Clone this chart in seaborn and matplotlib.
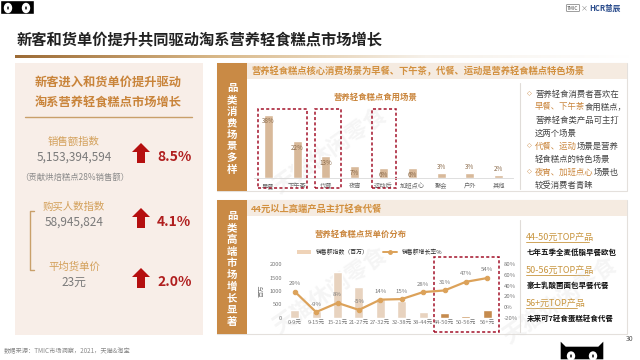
import numpy as np
import matplotlib.pyplot as plt
import seaborn as sns
from matplotlib.patches import Rectangle, Polygon, Patch, Ellipse
from matplotlib.lines import Line2D
from matplotlib.colors import LinearSegmentedColormap

sns.set_theme(style='white')
plt.rcParams['font.family'] = ['Noto Sans CJK SC', 'DejaVu Sans']

# ---- data ----
scenes = ['早餐', '下午茶', '代餐', '夜宵', '运动后', '加班点心', '聚会', '户外', '其他']
scene_share = [38, 22, 13, 7, 6, 6, 3, 3, 2]

price_bins = ['0-9元', '9-15元', '15-21元', '21-27元', '27-32元', '32-38元',
              '38-44元', '44-50元', '50-56元', '56+元']
sales_index = [300, 260, 1700, 1150, 740, 630, 220, 180, 70, 300]
sales_growth = [29, -9, 8, -5, 14, 15, 28, 31, 47, 54]

kpi_names = ['销售额指数', '购买人数指数', '平均货单价']
kpi_values = ['5,153,394,594', '58,945,824', '23元']
kpi_growth = ['8.5%', '4.1%', '2.0%']

top_products = ['44-50元TOP产品', '50-56元TOP产品', '56+元TOP产品']
top_product_names = ['七年五季全麦低脂早餐欧包', '豪士乳酸菌面包早餐代餐', '未来可7轻食蛋糕轻食代餐']

# colours
brown = '#C98A45'
strip = '#F5EBE1'
orange_txt = '#D2903F'
tan_bar = '#E3B98F'
light_bar = '#EFD3B8'
dark_bar = '#D98B3A'
line_col = '#DCA25A'
red_dash = '#A3122A'
red_txt = '#B01E1E'

W, H = 640, 360
fig = plt.figure(figsize=(6.4, 3.6), dpi=100)
fig.patch.set_facecolor('white')

bg = fig.add_axes([0, 0, 1, 1])
bg.axis('off')


def fax(x0, y0, x1, y1):
    return fig.add_axes([x0 / W, 1 - y1 / H, (x1 - x0) / W, (y1 - y0) / H])


# ---- title + gradient rule ----
bg.text(17, 40, '新客和货单价提升共同驱动淘系营养轻食糕点市场增长', fontsize=11,
        fontweight='bold', color='#222222', va='center', ha='left')
grad = LinearSegmentedColormap.from_list('g', ['#9C6B35', '#D9B98A', '#F6F1EA', '#FFFFFF'])
bg.imshow(np.linspace(0, 1, 256)[None, :], cmap=grad, aspect='auto',
          extent=(15, 630, 58.5, 56.0))

# logos (rough)
bg.add_patch(Polygon([[0, 0], [34, 0], [34, 14], [0, 14]], closed=True, fc='black'))
for ex in (8, 26):
    bg.add_patch(Ellipse((ex, 8), 7, 9, fc='white'))
    bg.add_patch(Ellipse((ex, 8), 3, 5, fc='black'))
bg.text(584, 8, '×', fontsize=5, color='#888888', ha='center', va='center')
bg.text(605, 8, 'HCR慧辰', fontsize=5.5, fontweight='bold', color='#2A4C8C', ha='center', va='center')
bg.text(573, 8, 'TMIC', fontsize=3.5, color='#555555', ha='center', va='center',
        bbox=dict(boxstyle='round,pad=0.2', fc='white', ec='#777777', lw=0.5))
cat = [[560, 360], [560, 340], [566, 346], [598, 346], [604, 340], [604, 360]]
bg.add_patch(Polygon(cat, closed=True, fc='black'))
for ex in (571, 593):
    bg.add_patch(Ellipse((ex, 356), 7, 8, fc='white'))
    bg.add_patch(Ellipse((ex, 356), 3, 5, fc='black'))
bg.text(630, 339, '30', fontsize=5, color='#555555', ha='center', va='center')
bg.text(4, 351, '数据来源：TMIC市场洞察，2021，天猫&淘宝', fontsize=4.5, color='#888888',
        ha='left', va='center')

# ---- left panel ----
bg.add_patch(Rectangle((15, 63), 188, 272, fc='#F8EEE8', ec='none'))
bg.text(108, 82, '新客进入和货单价提升驱动', fontsize=8.8, fontweight='bold',
        color='#C9843A', ha='center', va='center')
bg.text(108, 103, '淘系营养轻食糕点市场增长', fontsize=8.8, fontweight='bold',
        color='#C9843A', ha='center', va='center')
bg.plot([25, 192], [117, 117], color='#C9A06A', lw=1)

name_y = [142, 207, 267]
val_y = [157, 222, 282]
for name, val, g, ny, vy in zip(kpi_names, kpi_values, kpi_growth, name_y, val_y):
    bg.text(74, ny, name, fontsize=7.5, color='#D3A05A', ha='center', va='center')
    bg.text(74, vy, val, fontsize=8.5, color='#7A7A7A', ha='center', va='center')
    bg.text(157, vy, g, fontsize=10, fontweight='bold', color=red_txt, ha='left', va='center')
    cx, top = 141, ny + 1
    arrow = [[cx, top], [cx + 9, top + 9], [cx + 4, top + 9], [cx + 4, top + 20],
             [cx - 4, top + 20], [cx - 4, top + 9], [cx - 9, top + 9]]
    bg.add_patch(Polygon(arrow, closed=True, fc='#B50F0F', ec='none'))
bg.text(75, 177, '（贡献烘焙糕点28%销售额）', fontsize=6, color='#8A8A8A', ha='center', va='center')
bg.plot([34, 30, 30, 34], [211, 211, 270, 270], color='#C9A06A', lw=1)

# ---- right panels frame ----
for y0, y1, label, head in [(63, 191, '品类消费场景多样',
                              '营养轻食糕点核心消费场景为早餐、下午茶，代餐、运动是营养轻食糕点特色场景'),
                             (200, 334, '品类高端市场增长显著', '44元以上高端产品主打轻食代餐')]:
    bg.add_patch(Rectangle((217, y0), 410, y1 - y0, fc='white', ec='#E4E0DC', lw=0.8))
    bg.add_patch(Rectangle((217, y0), 30, y1 - y0, fc=brown, ec='none'))
    bg.add_patch(Rectangle((247, y0), 380, 16, fc=strip, ec='none'))
    bg.text(251, y0 + 8.5, head, fontsize=6.7, fontweight='bold', color=orange_txt,
            ha='left', va='center')
    bg.text(232, (y0 + y1) / 2 + 2, '\n'.join(label), fontsize=7.5, fontweight='bold',
            color='white', ha='center', va='center', linespacing=1.2)
    bg.plot([520, 520], [y0 + 20, y1 - 2], color='#E0DCD8', lw=0.8)

# watermark
for wx, wy in [(330, 150), (330, 290), (560, 300)]:
    bg.text(wx, wy, '天猫休闲零食', fontsize=16, fontweight='bold', color='#D8D8D8',
            alpha=0.25, rotation=35, ha='center', va='center')

# top-right bullet text
fs = 6.0
em = fs * 100 / 72
lines = [
    (True, [('营养轻食消费者喜欢在', '#444444')]),
    (False, [('早餐、下午茶', '#C9843A'), ('食用糕点，', '#444444')]),
    (False, [('营养轻食类产品可主打', '#444444')]),
    (False, [('这两个场景', '#444444')]),
    (True, [('代餐、运动', '#C9843A'), ('场景是营养', '#444444')]),
    (False, [('轻食糕点的特色场景', '#444444')]),
    (True, [('夜宵、加班点心', '#C9843A'), ('场景也', '#444444')]),
    (False, [('较受消费者青睐', '#444444')]),
]
ly = [94, 107, 120, 133, 146, 159, 172, 185]
for (bullet, parts), y in zip(lines, ly):
    if bullet:
        bg.text(529, y, '◇', fontsize=4.5, color='#C9843A', ha='center', va='center',
                family='DejaVu Sans')
    x = 535
    for txt, c in parts:
        bg.text(x, y, txt, fontsize=fs, color=c, ha='left', va='center')
        x += em * len(txt)

# bottom-right product list
for i, (h, n) in enumerate(zip(top_products, top_product_names)):
    y = 237 + 33 * i
    bg.text(526, y, h, fontsize=6.5, color='#C8953F', ha='left', va='center')
    bg.plot([526, 526 + 5.2 * len(h) + (6 if i < 2 else 4)], [y + 4.5, y + 4.5], color='#C8953F', lw=0.6)
    bg.text(527, y + 15, n, fontsize=5.4, fontweight='bold', color='#111111', ha='left', va='center')

bg.set_xlim(0, W)
bg.set_ylim(H, 0)

# ---- top chart: consumption scenes ----
ax1 = fax(254, 108, 513, 178)
sns.barplot(x=scenes, y=scene_share, color=tan_bar, width=0.31, ax=ax1)
ax1.set_ylim(0, 42)
ax1.set_xlim(-0.5, len(scenes) - 0.5)
ax1.set_yticks([])
ax1.set_ylabel('')
for s in ['top', 'right', 'left']:
    ax1.spines[s].set_visible(False)
ax1.spines['bottom'].set_color('#D9D9D9')
ax1.spines['bottom'].set_linewidth(0.6)
ax1.tick_params(axis='x', length=0, pad=3, labelsize=4.5, labelcolor='#666666')
ax1.patch.set_alpha(0)
for i, v in enumerate(scene_share):
    if v >= 5:
        ax1.annotate(f'{v}%', (i, v), xytext=(0, -2), textcoords='offset points',
                     ha='center', va='top', fontsize=4.5, color='#8A6A4A')
    else:
        ax1.annotate(f'{v}%', (i, v), xytext=(0, 1.5), textcoords='offset points',
                     ha='center', va='bottom', fontsize=4.5, color='#8A6A4A')
ax1.text(0.47, 1.15, '营养轻食糕点食用场景', transform=ax1.transAxes, fontsize=6,
         fontweight='bold', color='#C9843A', ha='center', va='center')
for x0, x1 in [(-0.37, 1.34), (1.62, 2.52), (3.6, 4.43)]:
    ax1.add_patch(Rectangle((x0, -0.143), x1 - x0, 1.13, transform=ax1.get_xaxis_transform(),
                            fill=False, ls=(0, (2, 1.5)), lw=1.1, ec=red_dash, clip_on=False))

# ---- bottom chart: price distribution ----
ax2 = fax(284, 264, 498, 318)
bar_colors = [light_bar] * 7 + [dark_bar] * 3
sns.barplot(x=price_bins, y=sales_index, hue=price_bins, palette=bar_colors, legend=False,
            width=0.42, ax=ax2)
ax2.set_ylim(0, 2000)
ax2.set_yticks([0, 500, 1000, 1500, 2000])
ax2.set_ylabel('百万', fontsize=4.5, color='#777777', labelpad=3)
ax2.tick_params(axis='both', length=0, pad=1.5, labelsize=4.1, labelcolor='#777777')
for s in ['top', 'right', 'left', 'bottom']:
    ax2.spines[s].set_visible(False)
ax2.patch.set_alpha(0)

ax2r = ax2.twinx()
sns.lineplot(x=np.arange(len(price_bins)), y=sales_growth, ax=ax2r, color=line_col, lw=1.6,
             marker='o', markersize=3.2, markeredgecolor=line_col)
ax2r.set_ylim(-20, 80)
ax2r.set_yticks([-20, 0, 20, 40, 60, 80])
ax2r.set_yticklabels([f'{t}%' for t in [-20, 0, 20, 40, 60, 80]])
ax2r.tick_params(axis='y', length=0, pad=4, labelsize=4.3, labelcolor='#777777')
for s in ['top', 'right', 'left', 'bottom']:
    ax2r.spines[s].set_visible(False)
ax2.set_xlim(-0.5, len(price_bins) - 0.5)
for i, v in enumerate(sales_growth):
    ax2r.annotate(f'{v}%', (i, v), xytext=(0, 4), textcoords='offset points',
                  ha='center', va='bottom', fontsize=4.3, color='#777777')
ax2.text(0.36, 1.55, '营养轻食糕点货单价分布', transform=ax2.transAxes, fontsize=6,
         fontweight='bold', color='#C9843A', ha='center', va='center')
ax2.add_patch(Rectangle((6.52, -0.26), 3.05, 1.39, transform=ax2.get_xaxis_transform(),
                        fill=False, ls=(0, (2, 1.5)), lw=1.1, ec=red_dash, clip_on=False))

handles = [Patch(fc=light_bar, ec='none'),
           Line2D([], [], color=line_col, lw=1.4, marker='o', markersize=2.5)]
fig.legend(handles, ['销售额指数（百万）', '销售额增长率%'], loc='center',
           bbox_to_anchor=(370 / W, 1 - 252 / H), ncol=2, frameon=False, fontsize=4.2,
           handlelength=2.4, handleheight=0.8, columnspacing=2.5)

fig.savefig('out.png', dpi=100)
